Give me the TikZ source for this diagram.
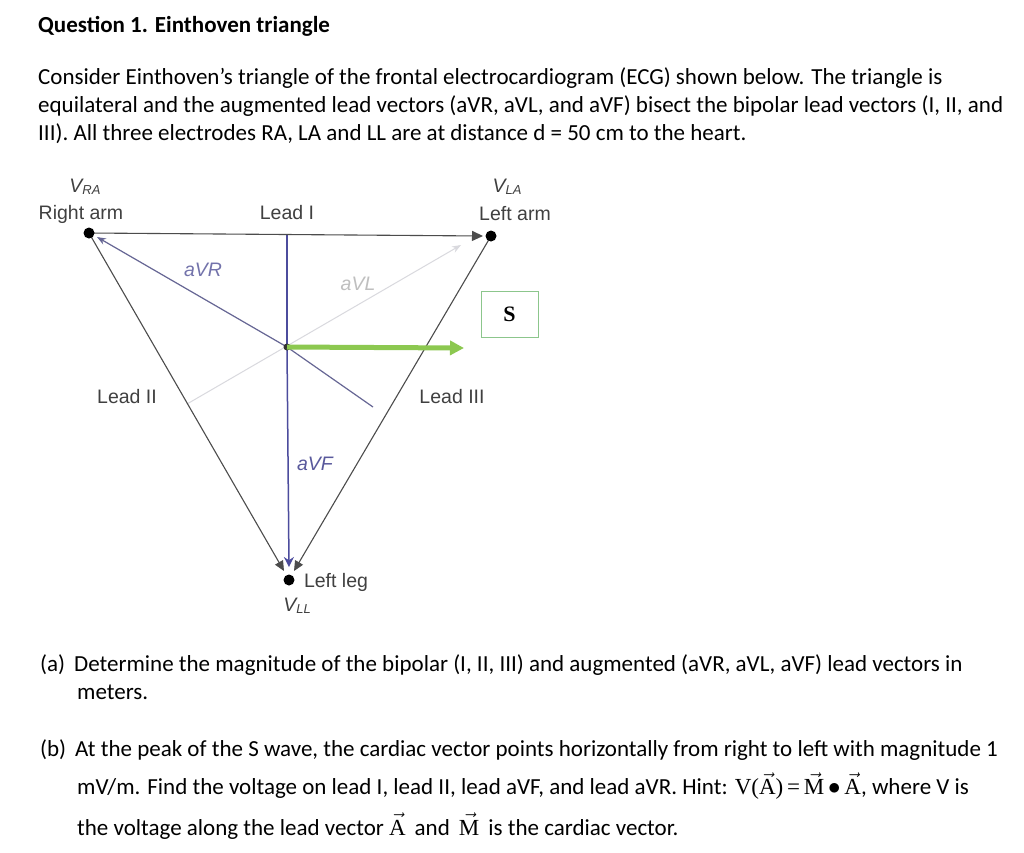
\documentclass[tikz,border=0pt]{standalone}
\usepackage{fontspec}
\setmainfont{Carlito}
\newfontfamily\arial{Liberation Sans}
\newfontfamily\tnr{Liberation Serif}
\usetikzlibrary{arrows.meta}
\newcommand{\vA}[1]{\ensuremath{\vec{\hbox{#1}}}}
\begin{document}
\begin{tikzpicture}[x=1pt,y=-1pt,
  txt/.style={anchor=west,inner sep=0,font=\fontsize{23}{26}\selectfont},
  lab/.style={inner sep=0,font=\arial\fontsize{19.5}{22}\selectfont,text=black!75},
  ilab/.style={lab,font=\arial\itshape\fontsize{19.5}{22}\selectfont},
  tri/.style={draw=black!70,line width=1.1pt},
  blue1/.style={draw=blue!30!black!60,line width=1.2pt},
  light/.style={draw=blue!15!black!15,line width=1pt},
  dot/.style={circle,fill=black,inner sep=0,minimum size=11pt}]
\useasboundingbox (0,0) rectangle (1024,852);
\fill[white] (0,0) rectangle (1024,852);
% text
\node[txt,font=\bfseries\fontsize{23}{26}\selectfont] (t) at (38,26) {Question 1. Einthoven triangle};
\node[txt] (p1) at (38,78) {Consider Einthoven’s triangle of the frontal electrocardiogram (ECG) shown below. The triangle is};
\node[txt] (p2) at (38,106) {equilateral and the augmented lead vectors (aVR, aVL, and aVF) bisect the bipolar lead vectors (I, II, and};
\node[txt] (p3) at (38,134) {III). All three electrodes RA, LA and LL are at distance d = 50 cm to the heart.};
\node[txt] (a1) at (40,665) {(a)\hspace{9pt}Determine the magnitude of the bipolar (I, II, III) and augmented (aVR, aVL, aVF) lead vectors in};
\node[txt] (a2) at (77,692) {meters.};
\node[txt] (b1) at (40,750) {(b)\hspace{9pt}At the peak of the S wave, the cardiac vector points horizontally from right to left with magnitude 1};
\node[txt] (b2) at (77,786) {mV/m. Find the voltage on lead I, lead II, lead aVF, and lead aVR. Hint: {\tnr\fontsize{23}{24}\selectfont V(\vA{A})\,=\,\vA{M}\,$\bullet$\,\vA{A}}, where V is};
\node[txt] (b3) at (77,826) {the voltage along the lead vector {\tnr\fontsize{23}{24}\selectfont\vA{A}}\, and\, {\tnr\fontsize{23}{24}\selectfont\vA{M}}\, is the cardiac vector.};
% geometry
\coordinate (RA) at (89,233);
\coordinate (LA) at (491,236);
\coordinate (LL) at (289,578);
\coordinate (C) at (287,347);
\coordinate (mI) at (287,235);
\coordinate (mII) at (187,404);
\coordinate (mIII) at (373,407);
\draw[light,-{Stealth[length=9pt]}] (mII) -- (461,245);
\draw[blue1] (mIII) -- (C);
\draw[blue1,-{Stealth[length=9pt]}] (C) -- (97,237);
\draw[blue1,line width=1.5pt,draw=blue!45!black!70] (mI) -- (C);
\draw[blue1,line width=1.5pt,draw=blue!45!black!70,-{Stealth[length=10pt,width=10pt]}] (C) -- (289,567);
\draw[tri,-{Triangle[length=11pt,width=10pt]}] (RA) -- (483,236);
\draw[tri,-{Triangle[length=10pt,width=9pt]}] (RA) -- (284,571);
\draw[tri,-{Triangle[length=10pt,width=9pt]}] (LA) -- (294,571);
\node[dot] (nRA) at (RA) {};
\node[dot] (nLA) at (LA) {};
\node[dot] (nLL) at (289,580) {};
\fill[black!80] (C) circle (3.5pt);
\node[draw=green!50!black!45,line width=0.8pt,minimum width=57pt,minimum height=46pt,font=\tnr\bfseries\fontsize{22}{24}\selectfont] (S) at (509.5,314) {S};
\draw[draw={rgb,255:red,140;green,200;blue,80},line width=5pt,-{Triangle[length=14pt,width=14pt]}] (C) -- (464,348);
% labels
\node[ilab] (vra) at (85,187) {V\raisebox{-2pt}{\fontsize{13}{14}\selectfont RA}};
\node[lab] (ra) at (81,214) {Right arm};
\node[lab] (li) at (287,213) {Lead I};
\node[ilab] (vla) at (507,187) {V\raisebox{-2pt}{\fontsize{13}{14}\selectfont LA}};
\node[lab] (la) at (515,214) {Left arm};
\node[ilab,text=blue!40!black!55] (avr) at (203,270) {aVR};
\node[ilab,text=black!25] (avl) at (358,284) {aVL};
\node[lab] (l2) at (127,397) {Lead II};
\node[lab] (l3) at (452,397) {Lead III};
\node[ilab,text=blue!40!black!65] (avf) at (315,464) {aVF};
\node[lab] (ll) at (336,582) {Left leg};
\node[ilab] (vll) at (297,606) {V\raisebox{-2pt}{\fontsize{13}{14}\selectfont LL}};
\end{tikzpicture}
\end{document}
